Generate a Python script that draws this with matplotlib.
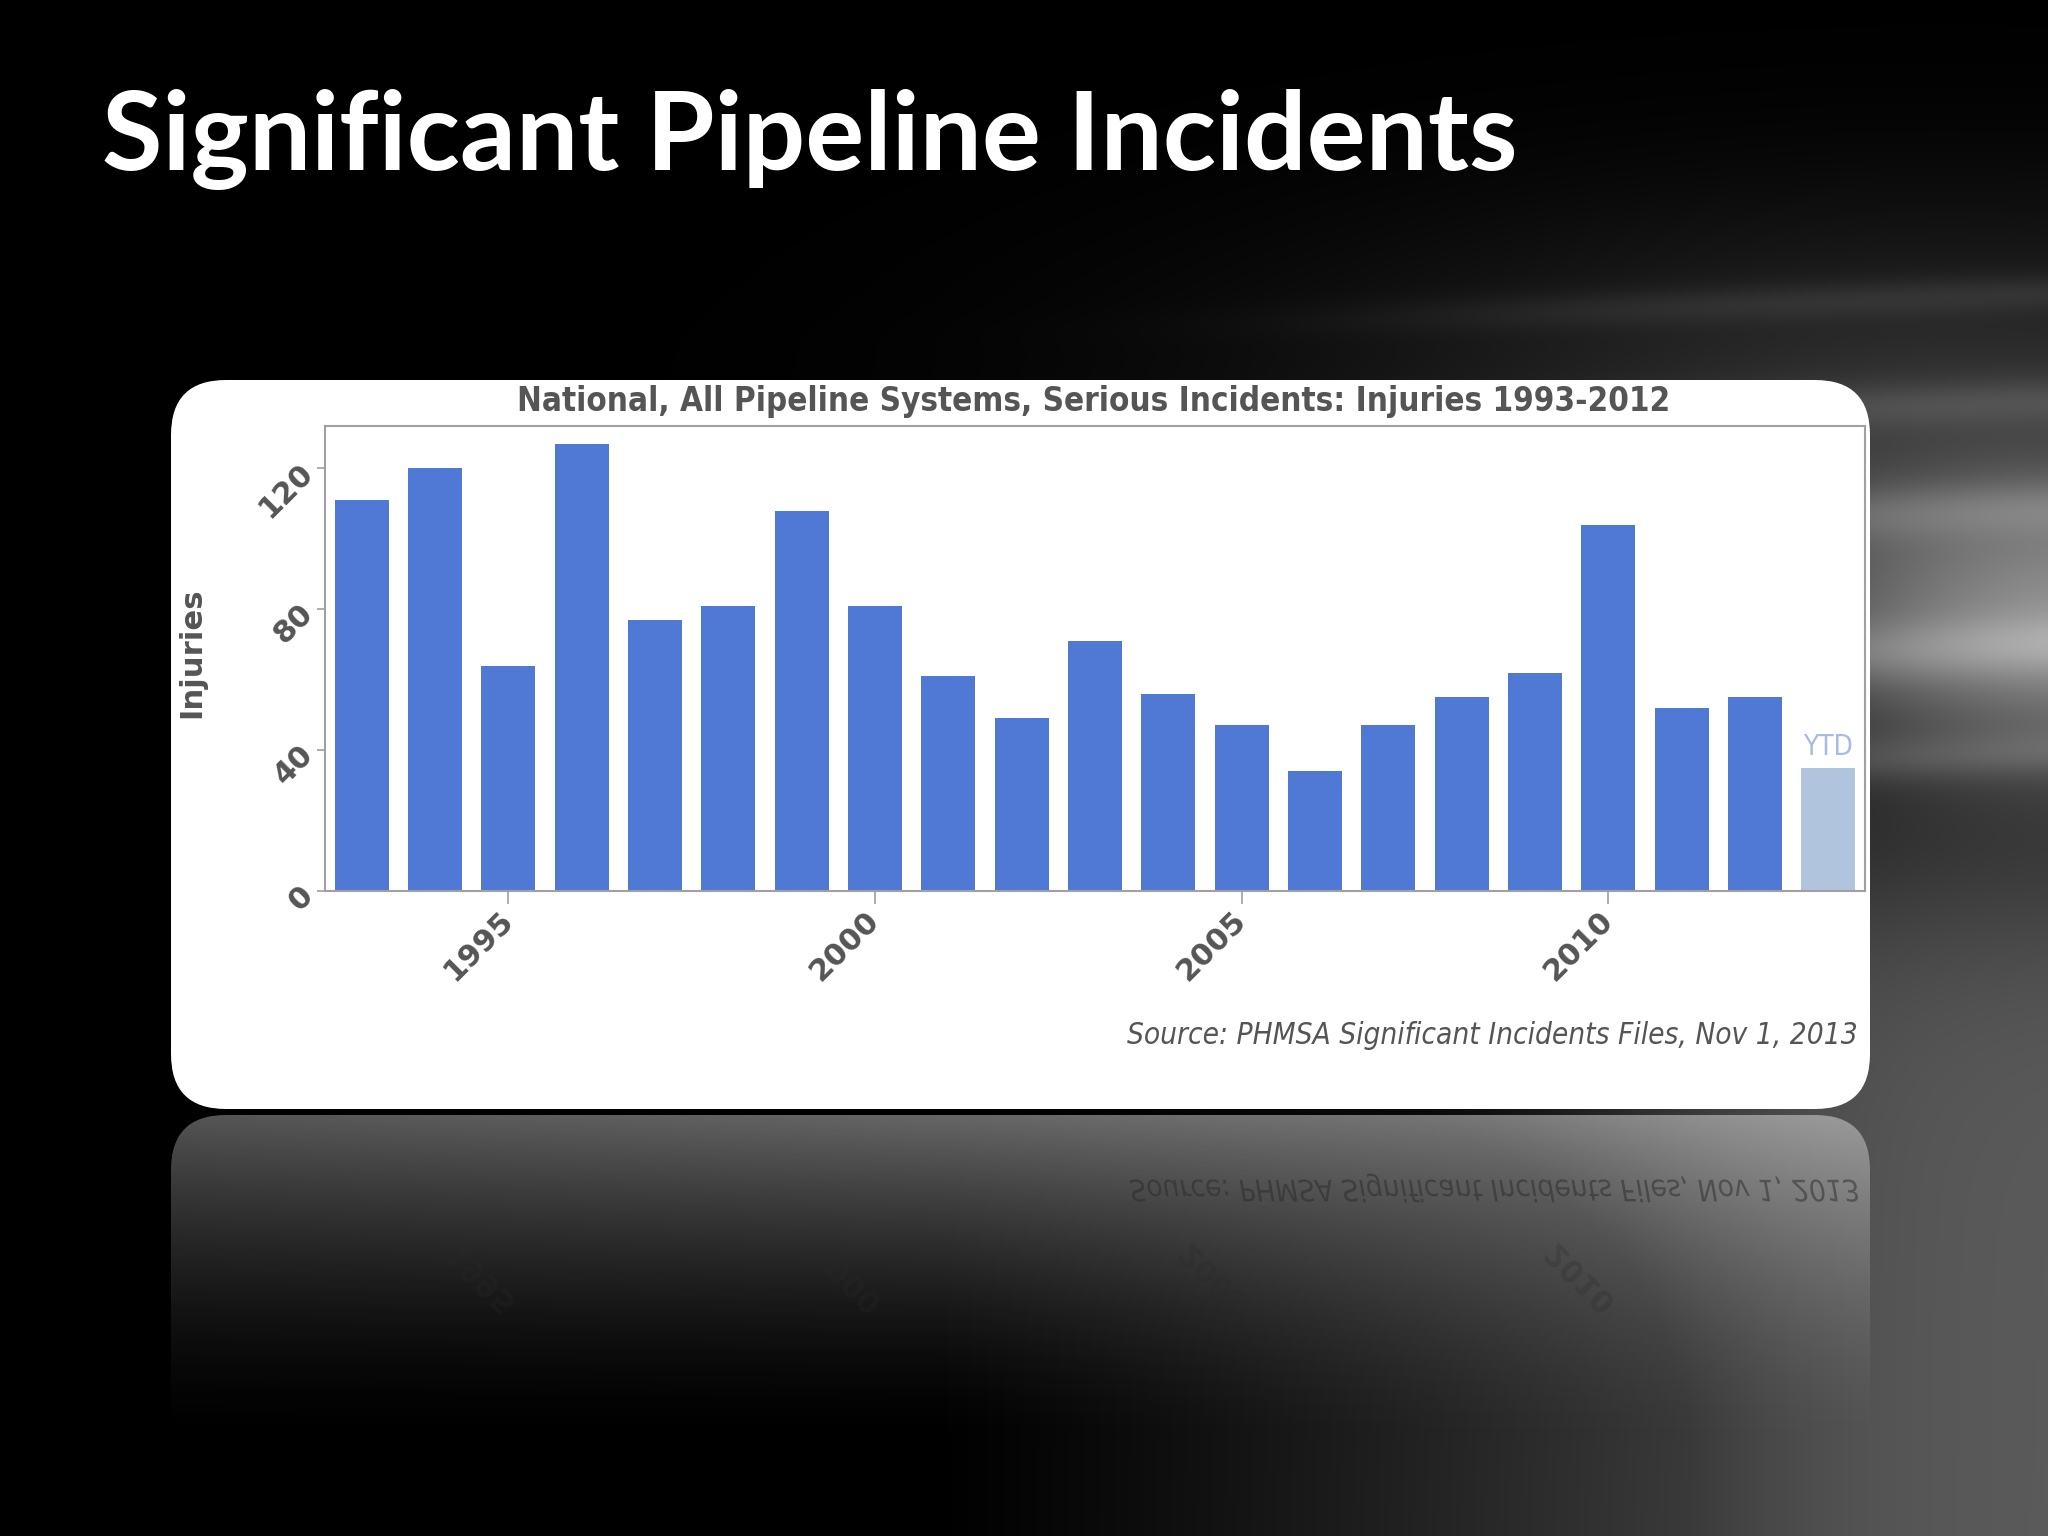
import numpy as np
import matplotlib
matplotlib.use("Agg")
import matplotlib.pyplot as plt
from matplotlib.patches import FancyBboxPatch, PathPatch
from matplotlib.textpath import TextPath
from matplotlib.font_manager import FontProperties
from matplotlib.transforms import Affine2D

# ---------------- data ----------------
years = list(range(1993, 2013))
injuries = [111, 120, 64, 127, 77, 81, 108, 81, 61, 49, 71, 56, 47, 34, 47, 55, 62, 104, 52, 55]
ytd_year = 2013
ytd_value = 35
xtick_years = [1995, 2000, 2005, 2010]
ytick_vals = [0, 40, 80, 120]

slide_title = "Significant Pipeline Incidents"
chart_title = "National, All Pipeline Systems, Serious Incidents: Injuries 1993-2012"
source_text = "Source: PHMSA Significant Incidents Files, Nov 1, 2013"
ylabel = "Injuries"

NARROW = ["Liberation Sans Narrow", "DejaVu Sans"]
GRAY_TXT = "#555555"

W_PX, H_PX = 2048, 1536
fig = plt.figure(figsize=(W_PX / 100, H_PX / 100), dpi=100)
fig.patch.set_facecolor("black")

# ---------------- background ----------------
bg = fig.add_axes([0, 0, 1, 1])
bg.set_xlim(0, W_PX)
bg.set_ylim(H_PX, 0)
bg.axis("off")

H, W = 384, 512
yy, xx = np.mgrid[0:1:H * 1j, 0:1:W * 1j]
sig = lambda z: 1 / (1 + np.exp(-z))
# uniform gray right of the panel and gray gradient at the bottom
base = np.maximum(0.36 * sig((xx - 0.80) / 0.05) * sig((yy - 0.56) / 0.04),
                  0.36 * sig((yy - 0.76) / 0.04) * np.clip((xx - 0.45) / 0.55, 0, 1) ** 1.2)
v = base.copy()
# broad light glow from the right
v += 0.50 * np.exp(-((xx - 1.02) / 0.16) ** 2 - ((yy - 0.41) / 0.10) ** 2)
v += 0.18 * np.exp(-((xx - 0.95) / 0.32) ** 2 - ((yy - 0.27) / 0.13) ** 2)
# streaks
for cy, amp, wy in [(0.19, 0.08, 0.012), (0.26, 0.10, 0.015), (0.33, 0.12, 0.018),
                    (0.42, 0.14, 0.02), (0.49, 0.10, 0.015)]:
    v += amp * np.exp(-((yy - cy - 0.05 * (1 - xx)) / wy) ** 2) * sig((xx - 0.7) / 0.06)
v = np.clip(v, 0, 0.78)
img = np.dstack([v, v, v])
bg.imshow(img, extent=[0, W_PX, H_PX, 0], aspect="auto", interpolation="bicubic", zorder=0)

# panel
px0, py0, pw, ph = 171, 380, 1699, 729
panel = FancyBboxPatch((px0, py0), pw, ph, boxstyle="round,pad=0,rounding_size=55",
                       facecolor="white", edgecolor="none", zorder=2)
bg.add_patch(panel)
MIRROR = py0 + ph + 3

# reflection
refl_clip = FancyBboxPatch((px0, MIRROR + 3), pw, ph, boxstyle="round,pad=0,rounding_size=55",
                           facecolor="none", edgecolor="none", transform=bg.transData)
bg.add_patch(refl_clip)
rh = 200
ry = np.linspace(0, 1, rh)[:, None] * np.ones((1, 64))
rx = np.linspace(0, 1, 64)[None, :] * np.ones((rh, 1))
rgba = np.zeros((rh, 64, 4))
rgba[..., :3] = 0.80
rgba[..., 3] = (0.42 + 0.18 * rx) * (1 - ry) ** 1.7
im = bg.imshow(rgba, extent=[px0, px0 + pw, MIRROR + 3 + 340, MIRROR + 3],
               aspect="auto", interpolation="bilinear", zorder=1)
im.set_clip_path(refl_clip)

# ---------------- slide title ----------------
t = fig.text(102 / W_PX, 1 - 170 / H_PX, slide_title, color="white", fontsize=70,
             fontweight="bold", family=["Lato", "DejaVu Sans"], ha="left", va="baseline")
r = fig.canvas.get_renderer()
t.set_fontsize(t.get_fontsize() * 1416 / t.get_window_extent(r).width)

# ---------------- chart ----------------
ax = fig.add_axes([325 / W_PX, 1 - 891 / H_PX, (1865 - 325) / W_PX, (891 - 426) / H_PX], zorder=3)
ax.set_facecolor("white")
ax.bar(years, injuries, width=0.74, color="#5079D6", zorder=2)
ax.bar([ytd_year], [ytd_value], width=0.74, color="#B0C4DE", zorder=2)
ax.text(ytd_year, ytd_value + 2, "YTD", ha="center", va="bottom", color="#A9BBE4",
        fontsize=20, family=NARROW, fontstretch="condensed")
ax.set_xlim(1992.5, 2013.5)
ax.set_ylim(0, 132)
for s in ax.spines.values():
    s.set_color("#A0A0A0")
    s.set_linewidth(1.5)
TICK_FS = 22
ax.set_xticks(xtick_years)
ax.set_xticklabels([str(y) for y in xtick_years], rotation=45, ha="right", va="center",
                   rotation_mode="anchor", fontsize=TICK_FS, fontweight="bold", color=GRAY_TXT)
ax.set_yticks(ytick_vals)
ax.set_yticklabels([str(y) for y in ytick_vals], rotation=45, ha="right", va="center",
                   rotation_mode="anchor", fontsize=TICK_FS, fontweight="bold", color=GRAY_TXT)
ax.tick_params(axis="x", length=9, width=1.2, color="#A0A0A0", pad=9)
ax.tick_params(axis="y", length=6, width=1.2, color="#A0A0A0", pad=6)

ct = fig.text(1094 / W_PX, 1 - 401 / H_PX, chart_title, ha="center", va="center",
              fontsize=24, fontweight="bold", color=GRAY_TXT, family=NARROW,
              fontstretch="condensed", zorder=4)
ct.set_fontsize(ct.get_fontsize() * 1153 / ct.get_window_extent(r).width)

yl = fig.text(192 / W_PX, 1 - 653 / H_PX, ylabel, ha="center", va="center", rotation=90,
              fontsize=22, fontweight="bold", color=GRAY_TXT, family=["DejaVu Sans"], zorder=4)
yl.set_fontsize(yl.get_fontsize() * 130 / yl.get_window_extent(r).height)

st = fig.text(1858 / W_PX, 1 - 1036 / H_PX, source_text, ha="right", va="center",
              fontsize=22, style="italic", color=GRAY_TXT, family=NARROW,
              fontstretch="condensed", zorder=4)
st.set_fontsize(st.get_fontsize() * 729 / st.get_window_extent(r).width)

# ---------------- reflections of panel texts ----------------
REFL_COLOR = "#2a2a2a"
fp_src = FontProperties(family=NARROW, style="italic", stretch="condensed")
tp = TextPath((0, 0), source_text, size=st.get_fontsize() * 100 / 72, prop=fp_src)
ext = tp.get_extents()
tr = (Affine2D().translate(-ext.x1, -(ext.y0 + ext.y1) / 2)
      .translate(1858, 2 * MIRROR - 1036) + bg.transData)
bg.add_patch(PathPatch(tp, transform=tr, facecolor=REFL_COLOR, edgecolor="none",
                       alpha=0.5, zorder=1.5))

fp_tick = FontProperties(family="DejaVu Sans", weight="bold")
ax_bottom_px = H_PX - ax.transData.transform((0, 0))[1]
anchor_y = ax_bottom_px + (9 + 9) * 100 / 72
for yr in xtick_years:
    tx = ax.transData.transform((yr, 0))[0]
    tp = TextPath((0, 0), str(yr), size=TICK_FS * 100 / 72, prop=fp_tick)
    ext = tp.get_extents()
    tr = (Affine2D().translate(-ext.x1, -(ext.y0 + ext.y1) / 2).rotate_deg(45)
          .translate(tx, 2 * MIRROR - anchor_y) + bg.transData)
    bg.add_patch(PathPatch(tp, transform=tr, facecolor=REFL_COLOR, edgecolor="none",
                           alpha=0.25, zorder=1.5))

fig.savefig("out.png", dpi=100, facecolor="black")
